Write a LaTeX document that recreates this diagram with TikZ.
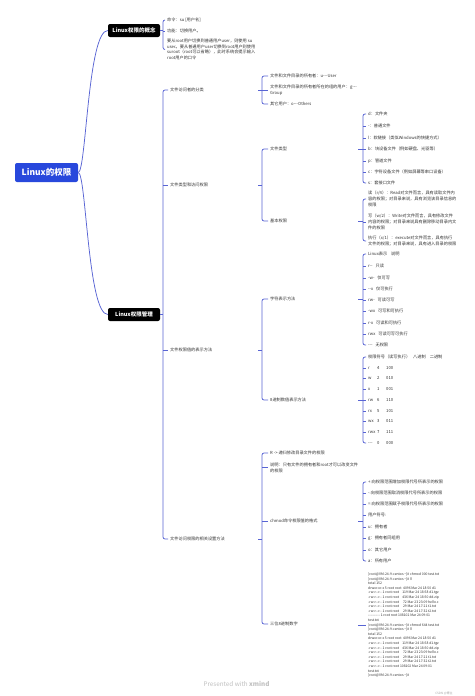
\documentclass[tikz,border=0pt]{standalone}
\usepackage{fontspec}
\newfontfamily\cjkf{Noto Sans CJK SC}
\usetikzlibrary{calc}
\definecolor{connc}{RGB}{88,100,212}
\definecolor{rootc}{RGB}{40,72,220}
\definecolor{txtc}{RGB}{51,51,51}
\tikzset{
 conn/.style={draw=connc, line width=0.75pt},
 lv/.style={anchor=west, inner sep=0pt, align=left, text=txtc, font=\cjkf\fontsize{4.2}{5.8}\selectfont},
 term/.style={anchor=west, inner sep=0pt, align=left, text=txtc, font=\cjkf\fontsize{3.4}{4.6}\selectfont},
 bbox/.style={fill=black, rounded corners=2pt, text=white, font=\cjkf\bfseries\fontsize{5.5}{6}\selectfont, minimum width=52pt, minimum height=13pt, inner sep=0pt},
 rootbox/.style={fill=rootc, rounded corners=2pt, text=white, font=\cjkf\bfseries\fontsize{8.5}{9}\selectfont, minimum width=63pt, minimum height=19pt, inner sep=0pt},
}
\newcommand\mbrk[3]{\draw[conn, rounded corners=2pt] ($(#2.west)+(-2,0)$) -- (#2.west -| #1) -- (#3.west -| #1) -- ($(#3.west)+(-2,0)$);}
\newcommand\mtck[2]{\draw[conn] (#2.west -| #1) -- ($(#2.west)+(-2,0)$);}
\newcommand\mstb[3]{\draw[conn] (#3.west -| #1) -- (#3.west -| #2);}
\begin{document}
\begin{tikzpicture}[x=1pt,y=-1pt]
\fill[white] (0,0) rectangle (474,696);
\useasboundingbox (0,0) rectangle (474,696);
% brace coordinates
\coordinate (b0) at (163,0);
\coordinate (b1) at (163,0);
\coordinate (b2) at (262,0);
\coordinate (b2s) at (258,0);
\coordinate (b3) at (363,0);
\coordinate (b3s) at (358,0);
% main nodes
\node[rootbox] (root) at (46.5,172.5) {Linux的权限};
\node[bbox] (c1) at (134,30.5) {Linux权限的概念};
\node[bbox] (c2) at (134,314.5) {Linux权限管理};
\draw[conn] (root.east) .. controls +(8,0) and +(-20,0) .. (c1.west);
\draw[conn] (root.east) .. controls +(8,0) and +(-20,0) .. (c2.west);
% concept group
\node[lv] (t1) at (167,20) {命令：su [用户名]};
\node[lv] (t2) at (167,31) {功能：切换用户。};
\node[lv] (t3) at (167,49.5) {要从root用户切换到普通用户user，则使用 su\\user。要从普通用户user切换到root用户则使用\\suroot（root可以省略），此时系统会提示输入\\root用户的口令};
\draw[conn] (c1.east) -- (c1.east -| b0);
\mbrk{b0}{t1}{t3}
\mtck{b0}{t2}
% management level 1
\node[lv] (a1) at (170,90) {文件访问者的分类};
\node[lv] (a2) at (170,185) {文件类型和访问权限};
\node[lv] (a3) at (170,350) {文件权限值的表示方法};
\node[lv] (a4) at (170,539) {文件访问权限的相关设置方法};
\draw[conn] (c2.east) -- (c2.east -| b1);
\mbrk{b1}{a1}{a4}
\mtck{b1}{a2}
\mtck{b1}{a3}
% a1 group
\node[lv] (u1) at (270,76) {文件和文件目录的所有者：u---User};
\node[lv] (u2) at (270,90.5) {文件和文件目录的所有者所在的组的用户：g---\\Group};
\node[lv] (u3) at (270,104) {其它用户：o---Others};
\mstb{b2s}{b2}{a1}
\mbrk{b2}{u1}{u3}
\mtck{b2}{u2}
% a2 group
\node[lv] (f1) at (270,149) {文件类型};
\node[lv] (f2) at (270,221) {基本权限};
\mstb{b2s}{b2}{a2}
\mbrk{b2}{f1}{f2}
% f1 group
\node[lv] (d1) at (368,114) {d：文件夹};
\node[lv] (d2) at (368,126) {-：普通文件};
\node[lv] (d3) at (368,138) {l：软链接（类似Windows的快捷方式）};
\node[lv] (d4) at (368,149) {b：块设备文件（例如硬盘、光驱等）};
\node[lv] (d5) at (368,161) {p：管道文件};
\node[lv] (d6) at (368,172) {c：字符设备文件（例如屏幕等串口设备）};
\node[lv] (d7) at (368,183) {s：套接口文件};
\mstb{b3s}{b3}{f1}
\mbrk{b3}{d1}{d7}
\foreach \n in {d2,d3,d4,d5,d6} {\mtck{b3}{\n}}
% f2 group
\node[lv] (p1) at (368,199) {读（r/4）：Read对文件而言，具有读取文件内\\容的权限；对目录来说，具有浏览该目录信息的\\权限};
\node[lv] (p2) at (368,222) {写（w/2）：Write对文件而言，具有修改文件\\内容的权限；对目录来说具有删除移动目录内文\\件的权限};
\node[lv] (p3) at (368,241) {执行（x/1）：execute对文件而言，具有执行\\文件的权限；对目录来说，具有进入目录的权限};
\mstb{b3s}{b3}{f2}
\mbrk{b3}{p1}{p3}
\mtck{b3}{p2}
% a3 group
\node[lv] (s1) at (270,299) {字符表示方法};
\node[lv] (s2) at (270,400) {8进制数值表示方法};
\mstb{b2s}{b2}{a3}
\mbrk{b2}{s1}{s2}
% s1 group
\node[lv] (h1) at (368,254) {Linux表示\hspace{4pt}说明};
\node[lv] (h2) at (368,266) {r--\hspace{3pt}只读};
\node[lv] (h3) at (368,278) {-w-\hspace{3pt}仅可写};
\node[lv] (h4) at (368,289) {--x\hspace{3pt}仅可执行};
\node[lv] (h5) at (368,300) {rw-\hspace{3pt}可读可写};
\node[lv] (h6) at (368,311) {-wx\hspace{3pt}可写和可执行};
\node[lv] (h7) at (368,323) {r-x\hspace{3pt}可读和可执行};
\node[lv] (h8) at (368,334) {rwx\hspace{3pt}可读可写可执行};
\node[lv] (h9) at (368,345) {---\hspace{3pt}无权限};
\mstb{b3s}{b3}{s1}
\mbrk{b3}{h1}{h9}
\foreach \n in {h2,h3,h4,h5,h6,h7,h8} {\mtck{b3}{\n}}
% s2 group
\node[lv] (o1) at (368,357) {权限符号（读写执行）\hspace{3pt}八进制\hspace{4pt}二进制};
\node[lv] (o2) at (368,368) {\makebox[9pt][l]{r}\makebox[9pt][l]{4}100};
\node[lv] (o3) at (368,378) {\makebox[9pt][l]{w}\makebox[9pt][l]{2}010};
\node[lv] (o4) at (368,389) {\makebox[9pt][l]{x}\makebox[9pt][l]{1}001};
\node[lv] (o5) at (368,400) {\makebox[9pt][l]{rw}\makebox[9pt][l]{6}110};
\node[lv] (o6) at (368,411) {\makebox[9pt][l]{rx}\makebox[9pt][l]{5}101};
\node[lv] (o7) at (368,421) {\makebox[9pt][l]{wx}\makebox[9pt][l]{3}011};
\node[lv] (o8) at (368,432) {\makebox[9pt][l]{rwx}\makebox[9pt][l]{7}111};
\node[lv] (o9) at (368,443) {\makebox[9pt][l]{---}\makebox[9pt][l]{0}000};
\mstb{b3s}{b3}{s2}
\mbrk{b3}{o1}{o9}
\foreach \n in {o2,o3,o4,o5,o6,o7,o8} {\mtck{b3}{\n}}
% a4 group
\node[lv] (m1) at (270,453) {R -> 递归修改目录文件的权限};
\node[lv] (m2) at (270,467.5) {说明：只有文件的拥有者和root才可以改变文件\\的权限};
\node[lv] (m3) at (270,521) {chmod命令权限值的格式};
\node[lv] (m4) at (270,624) {三位8进制数字};
\mstb{b2s}{b2}{a4}
\mbrk{b2}{m1}{m4}
\mtck{b2}{m2}
\mtck{b2}{m3}
% m3 group
\node[lv] (g1) at (368,482) {+:向权限范围增加权限代号所表示的权限};
\node[lv] (g2) at (368,493) {-:向权限范围取消权限代号所表示的权限};
\node[lv] (g3) at (368,504) {=:向权限范围赋予权限代号所表示的权限};
\node[lv] (g4) at (368,515) {用户符号:};
\node[lv] (g5) at (368,527) {u：拥有者};
\node[lv] (g6) at (368,538) {g：拥有者同组用};
\node[lv] (g7) at (368,550) {o：其它用户};
\node[lv] (g8) at (368,561) {a：所有用户};
\mstb{b3s}{b3}{m3}
\mbrk{b3}{g1}{g8}
\foreach \n in {g2,g3,g4,g5,g6,g7} {\mtck{b3}{\n}}
% m4 child
\node[term] (tm) at (368,625) {{[}root@VM-24-9-centos \textasciitilde{}]\# chmod 000 test.txt\\
{[}root@VM-24-9-centos \textasciitilde{}]\# ll\\
total 152\\
drwxr-xr-x 5 root root\ \ 4096 Mar 24 18:50 d1\\
-rw-r--r-- 1 root root\ \ \ \ 119 Mar 24 18:58 d1.tgz\\
-rw-r--r-- 1 root root\ \ \ \ 436 Mar 24 18:50 dd.zip\\
-rw-r--r-- 1 root root\ \ \ \ \ 72 Mar 23 23:09 hello.c\\
-rw-r--r-- 1 root root\ \ \ \ \ 29 Mar 24 17:21 t1.txt\\
-rw-r--r-- 1 root root\ \ \ \ \ 29 Mar 24 17:32 t2.txt\\
---------- 1 root root 108102 Mar 24 09:01\\
test.txt\\
{[}root@VM-24-9-centos \textasciitilde{}]\# chmod 644 test.txt\\
{[}root@VM-24-9-centos \textasciitilde{}]\# ll\\
total 152\\
drwxr-xr-x 5 root root\ \ 4096 Mar 24 18:50 d1\\
-rw-r--r-- 1 root root\ \ \ \ 119 Mar 24 18:58 d1.tgz\\
-rw-r--r-- 1 root root\ \ \ \ 436 Mar 24 18:50 dd.zip\\
-rw-r--r-- 1 root root\ \ \ \ \ 72 Mar 23 23:09 hello.c\\
-rw-r--r-- 1 root root\ \ \ \ \ 29 Mar 24 17:21 t1.txt\\
-rw-r--r-- 1 root root\ \ \ \ \ 29 Mar 24 17:32 t2.txt\\
-rw-r--r-- 1 root root 108102 Mar 24 09:01\\
test.txt\\
{[}root@VM-24-9-centos \textasciitilde{}]\#};
\draw[conn] (tm.west -| b3s) -- ($(tm.west)+(-2,0)$);
% footer
\node[font=\cjkf\fontsize{6.3}{7}\selectfont, text=black!25, inner sep=0pt] (ft) at (236.5,684) {Presented with \textbf{xmind}};
\node[font=\cjkf\fontsize{3}{3.5}\selectfont, text=black!35, inner sep=0pt] (wm) at (444,693) {CSDN @博主};
\end{tikzpicture}
\end{document}
